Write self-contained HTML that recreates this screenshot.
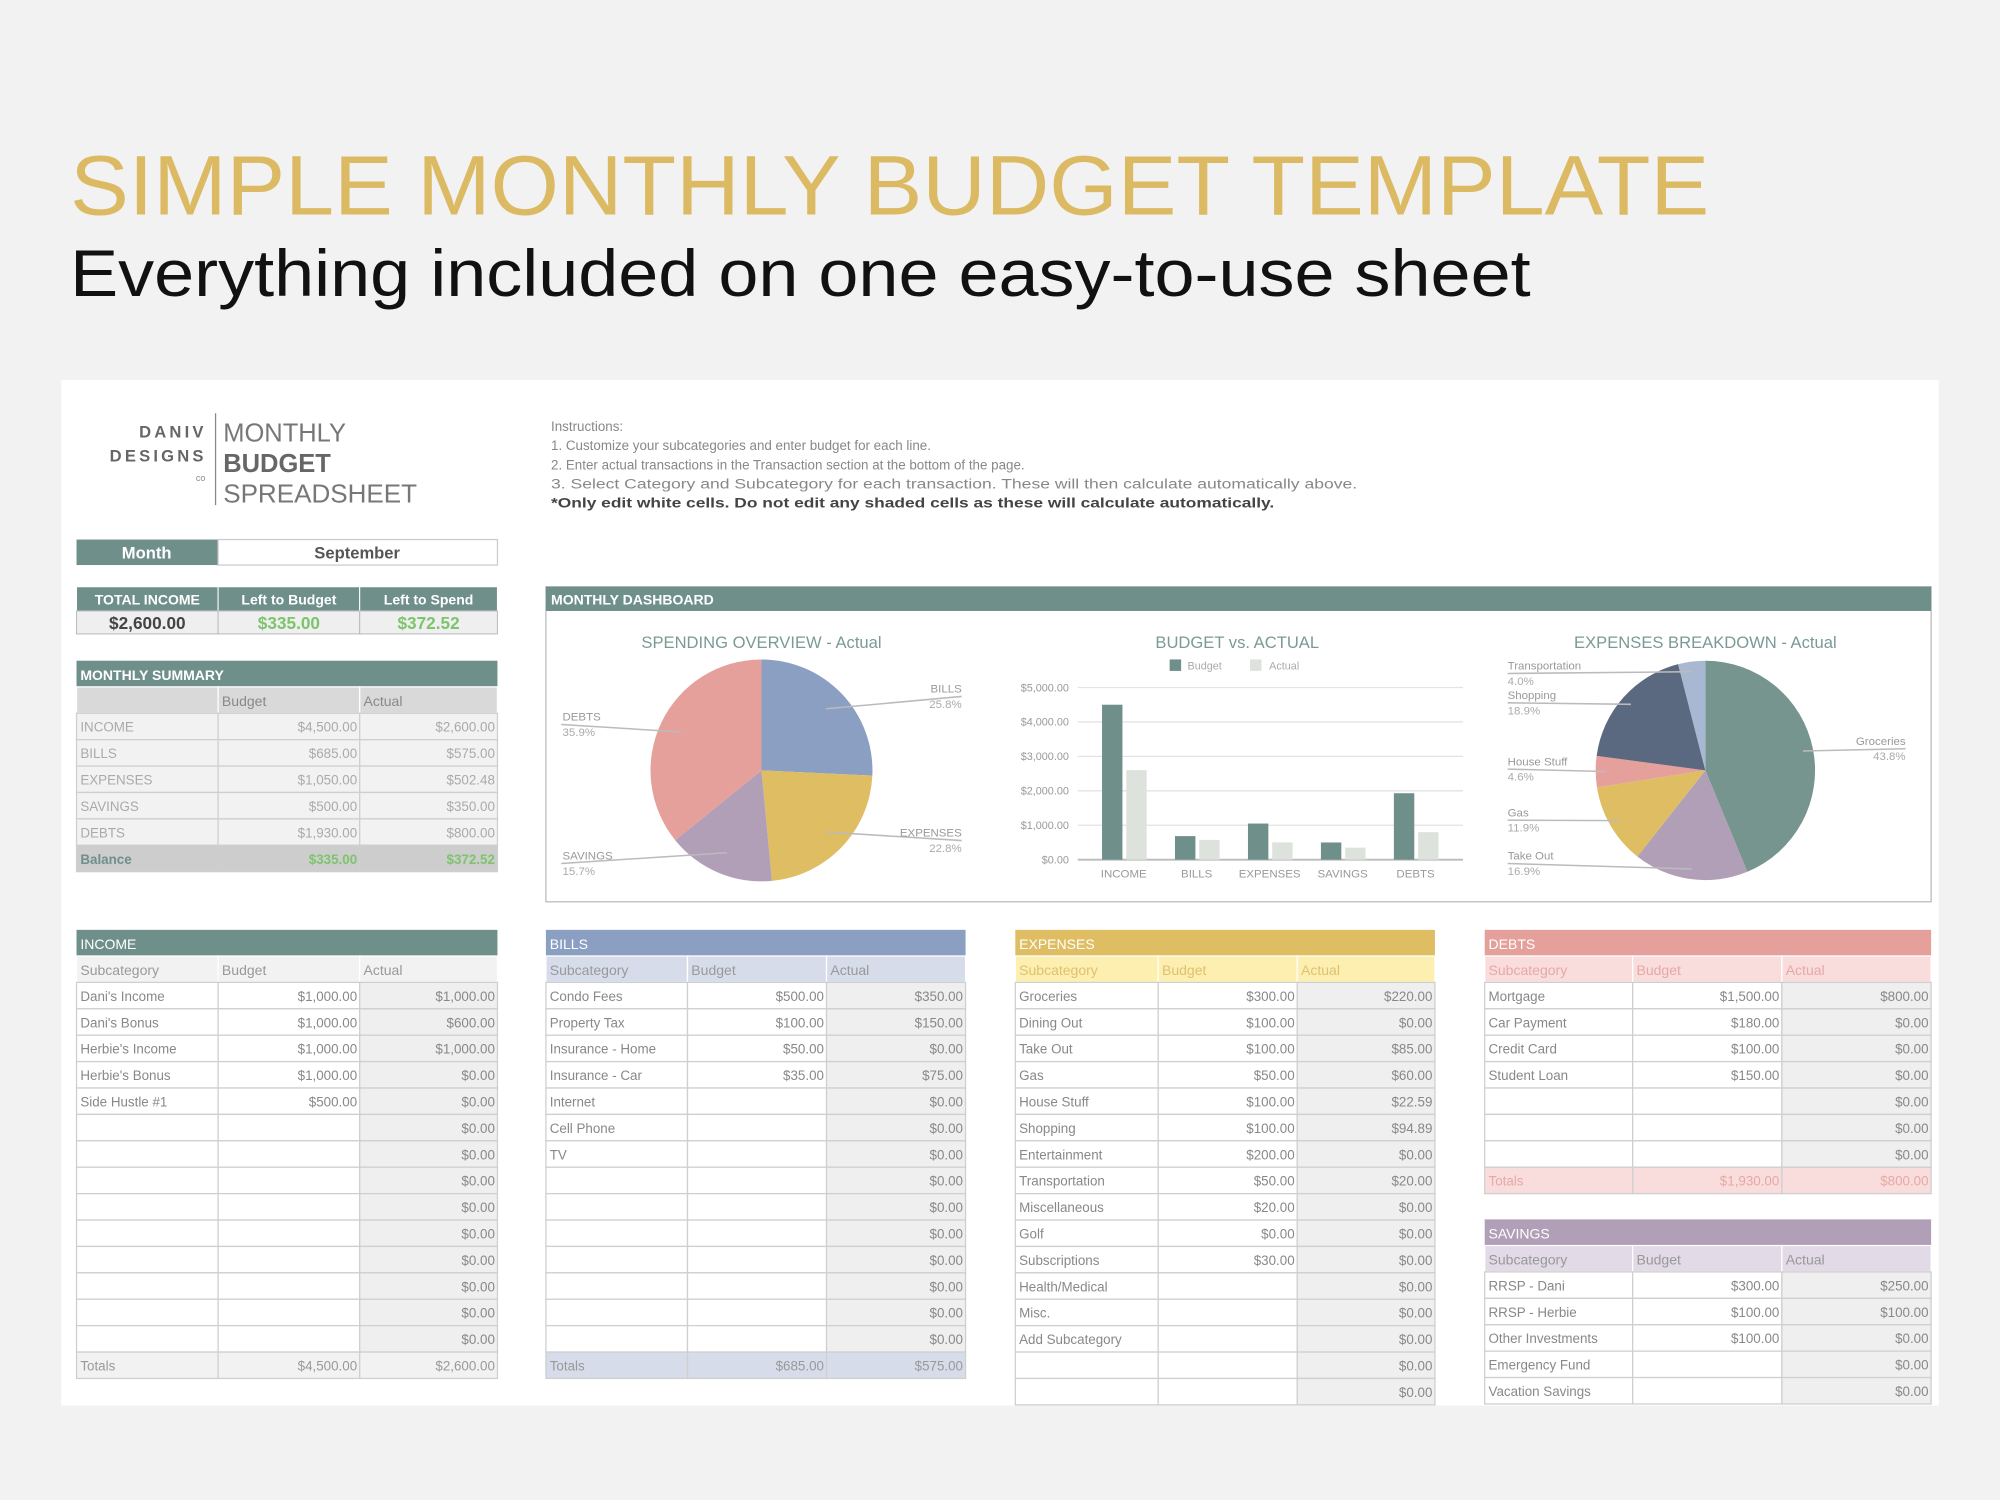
<!DOCTYPE html>
<html><head><meta charset="utf-8"><style>
html,body{margin:0;padding:0;background:#f2f2f2;width:2000px;height:1500px;overflow:hidden}
svg{display:block;font-family:"Liberation Sans",sans-serif}
</style></head><body>
<svg id="root" width="2000" height="1500" viewBox="0 0 1568 1176" xmlns="http://www.w3.org/2000/svg">
<rect x="0" y="0" width="1568" height="1176" fill="#f2f2f2"/>
<text x="55" y="168" font-size="66" fill="#dcba63" textLength="1285" lengthAdjust="spacingAndGlyphs">SIMPLE MONTHLY BUDGET TEMPLATE</text>
<text x="55" y="232" font-size="52" fill="#111" textLength="1145" lengthAdjust="spacingAndGlyphs">Everything included on one easy-to-use sheet</text>
<rect x="48" y="298" width="1472" height="804" fill="#fff"/>
<g>
<text x="162" y="343" font-size="13" font-weight="bold" fill="#666" text-anchor="end" letter-spacing="2.5">DANIV</text>
<text x="162" y="362" font-size="13" font-weight="bold" fill="#666" text-anchor="end" letter-spacing="2.5">DESIGNS</text>
<text x="161" y="377" font-size="7" fill="#888" text-anchor="end">co</text>
<line x1="169" y1="324" x2="169" y2="396" stroke="#888" stroke-width="1"/>
<text x="175" y="346" font-size="20" fill="#777">MONTHLY</text>
<text x="175" y="370" font-size="20" font-weight="bold" fill="#666">BUDGET</text>
<text x="175" y="394" font-size="20" fill="#777" textLength="152" lengthAdjust="spacingAndGlyphs">SPREADSHEET</text>
</g>
<g font-size="10.5" fill="#888">
<text x="432" y="338">Instructions:</text>
<text x="432" y="353">1. Customize your subcategories and enter budget for each line.</text>
<text x="432" y="368">2. Enter actual transactions in the Transaction section at the bottom of the page.</text>
<text x="432" y="383" textLength="632" lengthAdjust="spacingAndGlyphs">3. Select Category and Subcategory for each transaction.  These will then calculate automatically above.</text>
<text x="432" y="398" font-weight="bold" fill="#444" textLength="567" lengthAdjust="spacingAndGlyphs">*Only edit white cells.  Do not edit any shaded cells as these will calculate automatically.</text>
</g>
<g id="dyn"></g>
</svg>
<script>
const NS='http://www.w3.org/2000/svg';
const root=document.getElementById('dyn');
function mk(tag,attrs,parent,txt){const e=document.createElementNS(NS,tag);for(const k in attrs)e.setAttribute(k,attrs[k]);if(txt!==undefined)e.textContent=txt;(parent||root).appendChild(e);return e;}
const TEAL='#6f8f8b';

// ---- Month / totals ----
let e;
e=mk('rect',{x:60,y:423,width:111,height:20,fill:TEAL});

e=mk('text',{x:115,y:438,'font-size':13,'font-weight':'bold',fill:'#fff','text-anchor':'middle'},root,'Month');

e=mk('rect',{x:171,y:423,width:219,height:20,fill:'#fff',stroke:'#ccc'});

e=mk('text',{x:280,y:438,'font-size':13,'font-weight':'bold',fill:'#555','text-anchor':'middle'},root,'September');


const totHeads=['TOTAL INCOME','Left to Budget','Left to Spend'];
const totVals=['$2,600.00','$335.00','$372.52'];
const totX=[60,171,282,390];
for(let i=0;i<3;i++){
 e=mk('rect',{x:totX[i],y:460,width:totX[i+1]-totX[i],height:19,fill:TEAL,stroke:'#fff','stroke-width':0.8});
 
 e=mk('text',{x:(totX[i]+totX[i+1])/2,y:474,'font-size':11,'font-weight':'bold',fill:'#fff','text-anchor':'middle'},root,totHeads[i]);
 
 e=mk('rect',{x:totX[i],y:479,width:totX[i+1]-totX[i],height:18,fill:'#efefef',stroke:'#bbb','stroke-width':0.8});
 
 e=mk('text',{x:(totX[i]+totX[i+1])/2,y:493,'font-size':13.5,'font-weight':'bold',fill:i==0?'#444':'#7dc46c','text-anchor':'middle'},root,totVals[i]);
 
}

// ---- generic table ----
function table(opts){
 const g=mk('g',{});
 
 
 const xs=opts.xs, y0=opts.y, rh=20.7;
 const W=xs[3]-xs[0];
 e=mk('rect',{x:xs[0],y:y0,width:W,height:20.5,fill:opts.hc},g);
 
 e=mk('text',{x:xs[0]+3,y:y0+15,'font-size':11,fill:'#fff','font-weight':opts.hb?'bold':'normal'},g,opts.title);
 
 let y=y0+20.5;
 const ch=opts.colheads;
 for(let c=0;c<3;c++){
  e=mk('rect',{x:xs[c],y:y,width:xs[c+1]-xs[c],height:rh,fill:opts.chc,stroke:'#fff','stroke-width':1},g);
  
  e=mk('text',{x:xs[c]+3,y:y+15,'font-size':11,fill:opts.cht},g,ch[c]);
  
 }
 y+=rh;
 opts.rows.forEach((r,ri)=>{
  const tot=opts.totalIdx===ri;
  for(let c=0;c<3;c++){
   let fill=opts.cellFill(c,tot);
   e=mk('rect',{x:xs[c],y:y,width:xs[c+1]-xs[c],height:rh,fill:fill,stroke:'#cfcfcf','stroke-width':1},g);
   
   if(r[c]){
    const right=c>0;
    e=mk('text',{x:right?xs[c+1]-2:xs[c]+3,y:y+14.5,'font-size':10.5,fill:tot?opts.totText:(opts.textCol?opts.textCol(c,ri):'#888'),'text-anchor':right?'end':'start','font-weight':opts.boldIdx===ri?'bold':'normal'},g,r[c]);
    
   }
  }
  y+=rh;
 });
}

// Monthly summary
table({name:'monthly-summary-table',xs:[60,171,282,390],y:518,hc:TEAL,hb:true,title:'MONTHLY SUMMARY',
 colheads:['','Budget','Actual'],chc:'#d9d9d9',cht:'#888',noEdit:true,
 rows:[['INCOME','$4,500.00','$2,600.00'],['BILLS','$685.00','$575.00'],['EXPENSES','$1,050.00','$502.48'],['SAVINGS','$500.00','$350.00'],['DEBTS','$1,930.00','$800.00'],['Balance','$335.00','$372.52']],
 boldIdx:5,
 textCol:(c,ri)=>ri===5?(c===0?TEAL:'#7dc46c'):'#aaa',
 cellFill:(c,tot)=>'#f2f2f2'});
// fix balance row fill
(function(){const g=root.lastChild;const rects=g.querySelectorAll('rect');for(let i=rects.length-3;i<rects.length;i++)rects[i].setAttribute('fill','#cdcdcd');})();

const blanks=n=>Array.from({length:n},()=>['','','$0.00']);
table({name:'income-table',xs:[60,171,282,390],y:729,hc:TEAL,title:'INCOME',colheads:['Subcategory','Budget','Actual'],chc:'#f2f2f2',cht:'#999',
 rows:[["Dani's Income",'$1,000.00','$1,000.00'],["Dani's Bonus",'$1,000.00','$600.00'],["Herbie's Income",'$1,000.00','$1,000.00'],["Herbie's Bonus",'$1,000.00','$0.00'],['Side Hustle #1','$500.00','$0.00'],...blanks(9),['Totals','$4,500.00','$2,600.00']],
 totalIdx:14,totText:'#999',cellFill:(c,tot)=>tot?'#f2f2f2':(c==2?'#efefef':'#fff')});
table({name:'bills-table',xs:[428,539,648,757],y:729,hc:'#8a9fc1',title:'BILLS',colheads:['Subcategory','Budget','Actual'],chc:'#d7dcea',cht:'#999',
 rows:[['Condo Fees','$500.00','$350.00'],['Property Tax','$100.00','$150.00'],['Insurance - Home','$50.00','$0.00'],['Insurance - Car','$35.00','$75.00'],['Internet','','$0.00'],['Cell Phone','','$0.00'],['TV','','$0.00'],...blanks(7),['Totals','$685.00','$575.00']],
 totalIdx:14,totText:'#999',cellFill:(c,tot)=>tot?'#d7dcea':(c==2?'#efefef':'#fff')});
table({name:'expenses-table',xs:[796,908,1017,1125],y:729,hc:'#dfbd63',title:'EXPENSES',colheads:['Subcategory','Budget','Actual'],chc:'#fcefb0',cht:'#e0c070',
 rows:[['Groceries','$300.00','$220.00'],['Dining Out','$100.00','$0.00'],['Take Out','$100.00','$85.00'],['Gas','$50.00','$60.00'],['House Stuff','$100.00','$22.59'],['Shopping','$100.00','$94.89'],['Entertainment','$200.00','$0.00'],['Transportation','$50.00','$20.00'],['Miscellaneous','$20.00','$0.00'],['Golf','$0.00','$0.00'],['Subscriptions','$30.00','$0.00'],['Health/Medical','','$0.00'],['Misc.','','$0.00'],['Add Subcategory','','$0.00'],...blanks(2)],
 cellFill:(c,tot)=>c==2?'#efefef':'#fff'});
table({name:'debts-table',xs:[1164,1280,1397,1514],y:729,hc:'#e6a09b',title:'DEBTS',colheads:['Subcategory','Budget','Actual'],chc:'#f9dcdc',cht:'#e6a9a5',
 rows:[['Mortgage','$1,500.00','$800.00'],['Car Payment','$180.00','$0.00'],['Credit Card','$100.00','$0.00'],['Student Loan','$150.00','$0.00'],...blanks(3),['Totals','$1,930.00','$800.00']],
 totalIdx:7,totText:'#e6a9a5',cellFill:(c,tot)=>tot?'#f9dcdc':(c==2?'#efefef':'#fff')});
table({name:'savings-table',xs:[1164,1280,1397,1514],y:956,hc:'#b09fb7',title:'SAVINGS',colheads:['Subcategory','Budget','Actual'],chc:'#e2dae6',cht:'#999',
 rows:[['RRSP - Dani','$300.00','$250.00'],['RRSP - Herbie','$100.00','$100.00'],['Other Investments','$100.00','$0.00'],['Emergency Fund','','$0.00'],['Vacation Savings','','$0.00']],
 cellFill:(c,tot)=>c==2?'#efefef':'#fff'});

// cover overflow below panel
e=mk('rect',{x:48,y:1102,width:1472,height:74,fill:'#f2f2f2'});

</script>

<script>
// ===== Dashboard charts =====
const spendCats=['BILLS','EXPENSES','SAVINGS','DEBTS'];
const spendVals=[25.8,22.8,15.7,35.9];
const spendColors=['#8a9fc1','#dfbd63','#b09fb7','#e6a09b'];

const barCats=['INCOME','BILLS','EXPENSES','SAVINGS','DEBTS'];
const budgetVals=[4500,685,1050,500,1930];
const actualVals=[2600,575,502.48,350,800];
const yTicks=[0,1000,2000,3000,4000,5000];
const yTickLabels=['$0.00','$1,000.00','$2,000.00','$3,000.00','$4,000.00','$5,000.00'];

const expCats=['Groceries','Take Out','Gas','House Stuff','Shopping','Transportation'];
const expVals=[43.8,16.9,11.9,4.6,18.9,4.0];
const expColors=['#76958f','#b09fb7','#dfbd63','#e6a09b','#5a6880','#a9b8d2'];

(function(){
const NS='http://www.w3.org/2000/svg';
const root=document.getElementById('dyn');
function mk(tag,attrs,parent,txt){const e=document.createElementNS(NS,tag);for(const k in attrs)e.setAttribute(k,attrs[k]);if(txt!==undefined)e.textContent=txt;(parent||root).appendChild(e);return e;}
let e;
const dash=mk('g',{});


e=mk('rect',{x:428,y:460,width:1086,height:247,fill:'#fff',stroke:'#bbb','stroke-width':1},dash);

e=mk('rect',{x:428,y:460,width:1086,height:19,fill:'#6f8f8b'},dash);

e=mk('text',{x:432,y:474,'font-size':11,'font-weight':'bold',fill:'#fff'},dash,'MONTHLY DASHBOARD');


function pie(name,cx,cy,r,vals,colors,title,tx){
 const g=mk('g',{},dash);
 
 
 e=mk('text',{x:tx,y:508,'font-size':13,fill:'#7a9a96','text-anchor':'middle'},g,title);
 
 const total=vals.reduce((a,b)=>a+b,0);
 let a0=-Math.PI/2;const mids=[];
 vals.forEach((v,i)=>{
  const a1=a0+v/total*2*Math.PI;
  const large=(a1-a0)>Math.PI?1:0;
  const d=`M${cx},${cy} L${cx+r*Math.cos(a0)},${cy+r*Math.sin(a0)} A${r},${r} 0 ${large} 1 ${cx+r*Math.cos(a1)},${cy+r*Math.sin(a1)} Z`;
  const p=mk('path',{d:d,fill:colors[i]},g);
  
  
  mids.push((a0+a1)/2);
  a0=a1;
 });
 return {g,mids};
}
function label(g,x,y,name,pct,anchor,lx1,ly,lx2,ly2){
 e=mk('polyline',{points:`${lx1},${ly} ${lx2},${ly2}`,fill:'none',stroke:'#bbb','stroke-width':1.2},g);
 
 e=mk('text',{x:x,y:y,'font-size':9,fill:'#999','text-anchor':anchor},g,name);
 
 e=mk('text',{x:x,y:y+12,'font-size':9,fill:'#aaa','text-anchor':anchor},g,pct);
 
}
const fmt=v=>v.toFixed(1)+'%';
// pie 1
const p1=pie('spending-overview-chart',597,604,87,spendVals,spendColors,'SPENDING OVERVIEW - Actual',597);
const p1pos=[[754,543,'end'],[754,656,'end'],[441,674,'start'],[441,565,'start']];
spendCats.forEach((c,i)=>{const m=p1.mids[i];const px=597+70*Math.cos(m),py=604+70*Math.sin(m);const [x,y,an]=p1pos[i];
 label(p1.g,x,y,c,fmt(spendVals[i]),an,px,py,an==='end'?x:x-1,y+3);});
// pie 2
const p2=pie('expenses-breakdown-chart',1337,604,86,expVals,expColors,'EXPENSES BREAKDOWN - Actual',1337);
const p2pos=[[1494,584,'end'],[1182,674,'start'],[1182,640,'start'],[1182,600,'start'],[1182,548,'start'],[1182,525,'start']];
expCats.forEach((c,i)=>{const m=p2.mids[i];const px=1337+78*Math.cos(m),py=604+78*Math.sin(m);const [x,y,an]=p2pos[i];
 label(p2.g,x,y,c,fmt(expVals[i]),an,px,py,x,y+3);});

// bar chart
const bg=mk('g',{},dash);


e=mk('text',{x:970,y:508,'font-size':13,fill:'#7a9a96','text-anchor':'middle'},bg,'BUDGET vs. ACTUAL');

const y0=674,y1=539,vmax=5000;
const yS=v=>y0-(v/vmax)*(y0-y1);
const xC=i=>881+i*57.2;
yTicks.forEach((t,i)=>{
 e=mk('line',{x1:845,x2:1147,y1:yS(t),y2:yS(t),stroke:i===0?'#bbb':'#e3e3e3','stroke-width':i===0?1.5:1},bg);
 
 e=mk('text',{x:838,y:yS(t)+3,'font-size':8.5,fill:'#999','text-anchor':'end'},bg,yTickLabels[i]);
 
});
barCats.forEach((c,i)=>{
 e=mk('rect',{x:xC(i)-17,y:yS(budgetVals[i]),width:16,height:y0-yS(budgetVals[i]),fill:'#6f8f8b'},bg);
 
 e=mk('rect',{x:xC(i)+2,y:yS(actualVals[i]),width:16,height:y0-yS(actualVals[i]),fill:'#dde3dc'},bg);
 
 e=mk('text',{x:xC(i),y:688,'font-size':9,fill:'#999','text-anchor':'middle'},bg,c);
 
});
e=mk('rect',{x:917,y:517,width:9,height:9,fill:'#6f8f8b'},bg);

e=mk('text',{x:931,y:525,'font-size':8.5,fill:'#aaa'},bg,'Budget');

e=mk('rect',{x:980,y:517,width:9,height:9,fill:'#dde3dc'},bg);

e=mk('text',{x:995,y:525,'font-size':8.5,fill:'#aaa'},bg,'Actual');

})();
</script>
</body></html>
